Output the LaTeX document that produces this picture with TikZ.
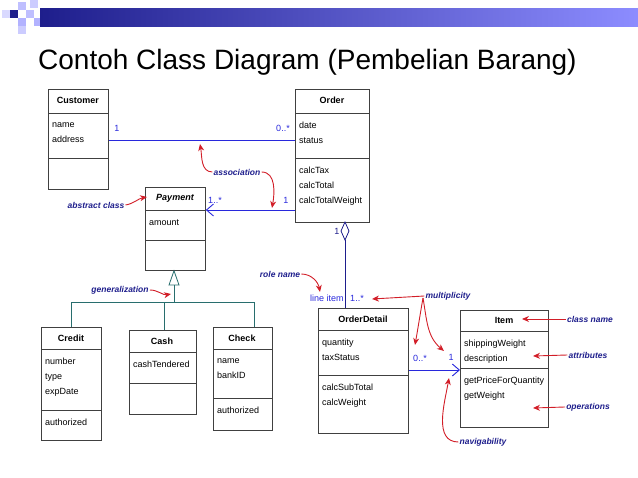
\documentclass[tikz,border=0pt]{standalone}
\usepackage{fontspec}
\setmainfont{Liberation Sans}
\usetikzlibrary{arrows.meta}
\definecolor{ublue}{RGB}{40,40,220}
\definecolor{navy}{RGB}{30,30,140}
\definecolor{ared}{RGB}{210,30,40}
\definecolor{gteal}{RGB}{40,110,110}
\tikzset{
  cbox/.style={draw=black!75,line width=0.8pt,anchor=north west,inner sep=0},
  ctext/.style={anchor=north west,align=left,font=\fontsize{9}{15}\selectfont,inner sep=0},
  ctitle/.style={font=\bfseries\fontsize{9}{10}\selectfont,inner sep=0},
  assoc/.style={ublue,line width=0.9pt},
  mult/.style={ublue,font=\fontsize{9}{10}\selectfont,inner sep=0},
  note/.style={navy,font=\bfseries\itshape\fontsize{8.5}{10}\selectfont,inner sep=1pt},
  redarr/.style={ared,line width=0.9pt,-{Stealth[length=7pt,width=6pt]}},
}
\newcommand{\classbox}[9]{%
  \node[cbox,minimum width=#4pt,minimum height=#5pt] (#1) at (#2,#3) {};
  \draw[black!75,line width=0.8pt] (#2,#6) -- ++(#4,0);
  \draw[black!75,line width=0.8pt] (#2,#7) -- ++(#4,0);
  \node[ctext] (#1a) at (#2+4,#6+9) {#8};
  \node[ctext] (#1o) at (#2+4,#7+9) {#9};
}
\begin{document}
\begin{tikzpicture}[x=1pt,y=-1pt]
\useasboundingbox (0,0) rectangle (638,478);
% header decoration
\shade[left color=navy,right color=blue!45!white] (40,9) rectangle (638,27);
\fill[navy] (10,10) rectangle (18,18);
\fill[blue!25] (18,2) rectangle (26,10);
\fill[blue!25] (26,10) rectangle (34,18);
\fill[blue!15] (2,10) rectangle (10,18);
\fill[blue!30] (18,18) rectangle (26,26);
\fill[blue!20] (30,0) rectangle (38,8);
\fill[blue!30] (34,18) rectangle (40,26);
\fill[blue!20] (18,26) rectangle (26,34);
\node[anchor=base west,inner sep=0,font=\fontsize{28}{32}\selectfont] (title) at (38,70) {Contoh Class Diagram (Pembelian Barang)};

% classes
\classbox{customer}{48}{89}{60}{100}{113}{158}{name\\address}{}
\node[ctitle] (customert) at (78,100) {Customer};
\classbox{order}{295}{89}{74}{133}{113}{158}{date\\status}{calcTax\\calcTotal\\calcTotalWeight}
\node[ctitle] (ordert) at (332,100) {Order};
\classbox{payment}{145}{187}{60}{83}{210}{240}{amount}{}
\node[ctitle,font=\bfseries\itshape\fontsize{9}{10}\selectfont] (paymentt) at (175,198) {Payment};
\classbox{credit}{41}{327}{60}{113}{349}{410}{number\\type\\expDate}{authorized}
\node[ctitle] (creditt) at (71,338) {Credit};
\classbox{cash}{129}{330}{67}{84}{352}{383}{cashTendered}{}
\node[ctitle] (casht) at (162,341) {Cash};
\classbox{check}{213}{327}{59}{103}{349}{398}{name\\bankID}{authorized}
\node[ctitle] (checkt) at (242,338) {Check};
\classbox{odetail}{318}{308}{90}{125}{330}{375}{quantity\\taxStatus}{calcSubTotal\\calcWeight}
\node[ctitle] (odetailt) at (363,319) {OrderDetail};
\classbox{item}{460}{310}{88}{117}{331}{368}{shippingWeight\\description}{getPriceForQuantity\\getWeight}
\node[ctitle] (itemt) at (504,320) {Item};

% associations
\draw[assoc] (customer.east |- 0,140) -- (order.west |- 0,140);
\node[mult] (m1) at (117,128) {1};
\node[mult] (m2) at (283,128) {0..*};
\draw[assoc,-{Straight Barb[length=7pt,width=12pt]}] (order.west |- 0,210) -- (payment.east |- 0,210);
\node[mult] (m3) at (215,200) {1..*};
\node[mult] (m4) at (286,200) {1};
\draw[navy,line width=0.9pt] (odetail.north -| 345,0) -- (345,240);
\draw[navy,line width=0.8pt,fill=white] (345,222) -- (349,231) -- (345,240) -- (341,231) -- cycle;
\node[mult,navy] (m5) at (337,231) {1};
\node[mult] (rn) at (327,298) {line item};
\node[mult] (m6) at (357,298) {1..*};
\draw[assoc,-{Straight Barb[length=7pt,width=12pt]}] (odetail.east |- 0,370) -- (item.west |- 0,370);
\node[mult] (m7) at (420,358) {0..*};
\node[mult] (m8) at (451,357) {1};

% generalization
\draw[gteal,line width=0.9pt] (174,285) -- (174,302);
\draw[gteal,line width=0.9pt] (credit.north -| 71,0) -- (71,302) -- (254,302) -- (check.north -| 254,0);
\draw[gteal,line width=0.9pt] (cash.north -| 164,0) -- (164,302);
\draw[gteal,line width=0.8pt,fill=white] (payment.south -| 174,0) -- (179,285) -- (169,285) -- cycle;

% annotations
\node[note] (na) at (237,172) {association};
\draw[redarr] (na.west) to[out=180,in=-80] (200,144);
\draw[redarr] (na.east) to[out=0,in=80] (272,208);
\node[note] (nab) at (96,205) {abstract class};
\draw[redarr] (nab.east) to[out=10,in=190] (147,197);
\node[note] (ng) at (120,290) {generalization};
\draw[redarr] (ng.east) to[out=0,in=190] (171,294);
\node[note] (nr) at (280,274) {role name};
\draw[redarr] (nr.east) to[out=0,in=100] (320,292);
\node[note] (nm) at (448,296) {multiplicity};
\draw[redarr] (nm.west) -- (372,299);
\draw[redarr] (423,298) to[out=-100,in=80] (415,345);
\draw[redarr] (423,298) to[out=-80,in=140] (444,351);
\node[note] (nc) at (590,319) {class name};
\draw[redarr] (nc.west) -- (522,319);
\node[note] (nat) at (588,355) {attributes};
\draw[redarr] (nat.west) -- (533,356);
\node[note] (no) at (588,407) {operations};
\draw[redarr] (no.west) -- (533,408);
\node[note] (nn) at (483,442) {navigability};
\draw[redarr] (nn.west) to[out=180,in=-100] (449,378);
\end{tikzpicture}
\end{document}
